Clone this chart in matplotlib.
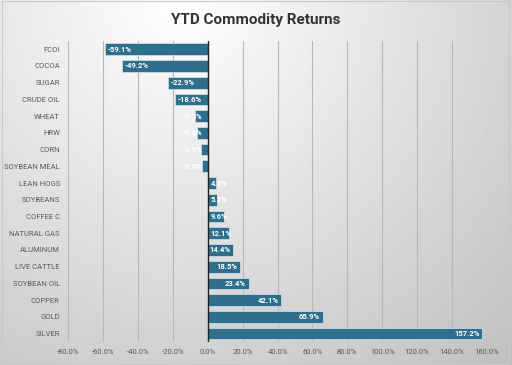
import numpy as np
import matplotlib
matplotlib.use("Agg")
import matplotlib.pyplot as plt
from matplotlib.ticker import FuncFormatter, MultipleLocator

plt.rcParams['font.family'] = ['Roboto', 'DejaVu Sans']

commodities = ["FCOI", "COCOA", "SUGAR", "CRUDE OIL", "WHEAT", "HRW", "CORN",
               "SOYBEAN MEAL", "LEAN HOGS", "SOYBEANS", "COFFEE C", "NATURAL GAS",
               "ALUMINUM", "LIVE CATTLE", "SOYBEAN OIL", "COPPER", "GOLD", "SILVER"]
returns = [-59.1, -49.2, -22.9, -18.6, -7.5, -6.2, -3.9, -3.5,
           4.5, 5.2, 9.6, 12.1, 14.4, 18.5, 23.4, 42.1, 65.9, 157.2]

fig = plt.figure(figsize=(5.12, 3.65), dpi=100)

# background gradient
bg = fig.add_axes([0, 0, 1, 1], zorder=-10)
gx, gy = np.meshgrid(np.linspace(0, 1, 256), np.linspace(0, 1, 256))
dist = np.sqrt(((gx - 0.35) * 1.4) ** 2 + (gy * 1.0) ** 2)
shade = 1.0 - 0.25 * dist / dist.max()
bg.imshow(shade, cmap="gray", vmin=0, vmax=1, extent=[0, 1, 0, 1],
          origin="upper", aspect="auto")
bg.plot([0.004, 0.004, 0.994, 0.994, 0.004], [0.004, 0.997, 0.997, 0.004, 0.004],
        color="#c8c8c8", lw=0.8)
bg.set_xlim(0, 1)
bg.set_ylim(0, 1)
bg.axis("off")

ax = fig.add_axes([0.133, 0.063, 0.818, 0.825])
ax.patch.set_alpha(0)
y = np.arange(len(commodities))
ax.barh(y, returns, height=0.7, color="#2e6f8c", edgecolor="#d6e2ea",
        linewidth=0.5, zorder=3)
ax.set_ylim(len(commodities) - 0.5, -0.5)
ax.set_xlim(-80, 160)
ax.xaxis.set_major_locator(MultipleLocator(20))
ax.xaxis.set_major_formatter(FuncFormatter(lambda v, p: f"{v:.1f}%"))
ax.set_yticks(y)
ax.set_yticklabels(commodities)
ax.tick_params(axis="both", length=0, labelsize=5.5, labelcolor="#595959")
ax.tick_params(axis="y", pad=6)
ax.tick_params(axis="x", pad=5)
ax.grid(axis="x", color="#b8b8b8", lw=0.8, zorder=0)
for s in ax.spines.values():
    s.set_visible(False)
ax.axvline(0, color="#222222", lw=1.0, zorder=4)

for yi, v in zip(y, returns):
    txt = f"{v:.1f}%"
    if v < 0:
        if v < -12:
            ax.text(v + 1.5, yi, txt, ha="left", va="center", color="white",
                    fontsize=5.5, fontweight="bold", zorder=5)
        else:
            ax.text(-3.3, yi, txt, ha="right", va="center", color="white",
                    fontsize=5.5, fontweight="bold", zorder=5)
    else:
        if v > 13:
            ax.text(v - 1.5, yi, txt, ha="right", va="center", color="white",
                    fontsize=5.5, fontweight="bold", zorder=5)
        else:
            ax.text(1.5, yi, txt, ha="left", va="center", color="white",
                    fontsize=5.5, fontweight="bold", zorder=5)

fig.text(0.5, 0.945, "YTD Commodity Returns", ha="center", va="center",
         fontsize=11, fontweight="bold", color="#333333")

plt.savefig("out.png", dpi=100)
